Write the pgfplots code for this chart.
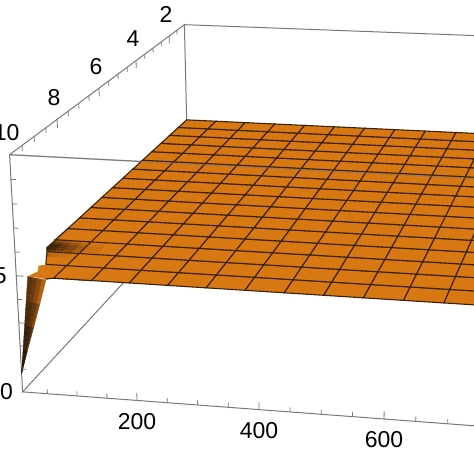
\documentclass[border=0pt]{standalone}
\usepackage{fontspec}
\setmainfont{Liberation Sans}
\usepackage{pgfplots}
\pgfplotsset{compat=1.18}
\definecolor{BoxGray}{RGB}{120,120,120}
\definecolor{MeshBrown}{RGB}{58,33,12}

% camera: (x,y,z) data to picture pixels, pgfplots has no perspective of its own
\newcommand\W{(1-0.01186*\thisrow{x}/200+0.0327*(10-\thisrow{y})-0.00413*\thisrow{z})}
\newcommand\PX{(17.9+117.5*\thisrow{x}/200+24.64*(10-\thisrow{y})-1.341*\thisrow{z})/\W}
\newcommand\PY{474-(391.5+4.2*\thisrow{x}/200-13.04*(10-\thisrow{y})-24.34*\thisrow{z})/\W}
\pgfplotsset{table/proj/.style={x expr=\PX,y expr=\PY,z expr=0,row sep=\\}}

\begin{document}
\begin{tikzpicture}
\useasboundingbox (0,0) rectangle (474pt,474pt);
\clip (0,0) rectangle (474pt,474pt);
\begin{axis}[
    at={(0pt,0pt)},
    anchor=south west,
    scale only axis,
    width=474pt,
    height=474pt,
    xmin=0, xmax=474,
    ymin=0, ymax=474,
    zmin=-1, zmax=1,
    view={0}{90},
    hide axis,
    point meta min=0,
    point meta max=1,
    colormap={fold}{rgb255=(30,18,8) rgb255=(122,68,16) rgb255=(215,120,18)},
    every node near coord/.append style={font=\fontsize{23}{23}\selectfont,anchor=center,text=black},
]

% box edges behind the surface
\addplot3[BoxGray,line width=1pt,unbounded coords=jump] table[proj] {
x y z\\
8 10 10\\ 8 10 0\\ 8 1 0\\ nan nan nan\\
8 1 0\\ 8 1 10\\ 8 10 10\\ nan nan nan\\
8 1 10\\ 1000 1 10\\ nan nan nan\\
8 10 10\\ 1000 10 10\\
};

% z ticks
\addplot3[BoxGray,line width=0.8pt,unbounded coords=jump] table[proj] {
x y z\\
8 10 1\\ 16 10 1\\ nan nan nan\\
8 10 2\\ 16 10 2\\ nan nan nan\\
8 10 3\\ 16 10 3\\ nan nan nan\\
8 10 4\\ 16 10 4\\ nan nan nan\\
8 10 5\\ 20 10 5\\ nan nan nan\\
8 10 6\\ 16 10 6\\ nan nan nan\\
8 10 7\\ 16 10 7\\ nan nan nan\\
8 10 8\\ 16 10 8\\ nan nan nan\\
8 10 9\\ 16 10 9\\
};

% surface, mesh lines as in the reference
\addplot3[surf,shader=faceted,faceted color=MeshBrown,line width=1.1pt,
    mesh/rows=17,mesh/cols=14,point meta=1] table[proj] {
x y z\\
8 1 5\\ 70 1 5\\ 132 1 5\\ 194 1 5\\ 256 1 5\\ 318 1 5\\ 380 1 5\\ 442 1 5\\ 504 1 5\\ 566 1 5\\ 628 1 5\\ 690 1 5\\ 752 1 5\\ 814 1 5\\
8 1.5625 5\\ 70 1.5625 5\\ 132 1.5625 5\\ 194 1.5625 5\\ 256 1.5625 5\\ 318 1.5625 5\\ 380 1.5625 5\\ 442 1.5625 5\\ 504 1.5625 5\\ 566 1.5625 5\\ 628 1.5625 5\\ 690 1.5625 5\\ 752 1.5625 5\\ 814 1.5625 5\\
8 2.125 5\\ 70 2.125 5\\ 132 2.125 5\\ 194 2.125 5\\ 256 2.125 5\\ 318 2.125 5\\ 380 2.125 5\\ 442 2.125 5\\ 504 2.125 5\\ 566 2.125 5\\ 628 2.125 5\\ 690 2.125 5\\ 752 2.125 5\\ 814 2.125 5\\
8 2.6875 5\\ 70 2.6875 5\\ 132 2.6875 5\\ 194 2.6875 5\\ 256 2.6875 5\\ 318 2.6875 5\\ 380 2.6875 5\\ 442 2.6875 5\\ 504 2.6875 5\\ 566 2.6875 5\\ 628 2.6875 5\\ 690 2.6875 5\\ 752 2.6875 5\\ 814 2.6875 5\\
8 3.25 5\\ 70 3.25 5\\ 132 3.25 5\\ 194 3.25 5\\ 256 3.25 5\\ 318 3.25 5\\ 380 3.25 5\\ 442 3.25 5\\ 504 3.25 5\\ 566 3.25 5\\ 628 3.25 5\\ 690 3.25 5\\ 752 3.25 5\\ 814 3.25 5\\
8 3.8125 5\\ 70 3.8125 5\\ 132 3.8125 5\\ 194 3.8125 5\\ 256 3.8125 5\\ 318 3.8125 5\\ 380 3.8125 5\\ 442 3.8125 5\\ 504 3.8125 5\\ 566 3.8125 5\\ 628 3.8125 5\\ 690 3.8125 5\\ 752 3.8125 5\\ 814 3.8125 5\\
8 4.375 5\\ 70 4.375 5\\ 132 4.375 5\\ 194 4.375 5\\ 256 4.375 5\\ 318 4.375 5\\ 380 4.375 5\\ 442 4.375 5\\ 504 4.375 5\\ 566 4.375 5\\ 628 4.375 5\\ 690 4.375 5\\ 752 4.375 5\\ 814 4.375 5\\
8 4.9375 5\\ 70 4.9375 5\\ 132 4.9375 5\\ 194 4.9375 5\\ 256 4.9375 5\\ 318 4.9375 5\\ 380 4.9375 5\\ 442 4.9375 5\\ 504 4.9375 5\\ 566 4.9375 5\\ 628 4.9375 5\\ 690 4.9375 5\\ 752 4.9375 5\\ 814 4.9375 5\\
8 5.5 5\\ 70 5.5 5\\ 132 5.5 5\\ 194 5.5 5\\ 256 5.5 5\\ 318 5.5 5\\ 380 5.5 5\\ 442 5.5 5\\ 504 5.5 5\\ 566 5.5 5\\ 628 5.5 5\\ 690 5.5 5\\ 752 5.5 5\\ 814 5.5 5\\
8 6.0625 5\\ 70 6.0625 5\\ 132 6.0625 5\\ 194 6.0625 5\\ 256 6.0625 5\\ 318 6.0625 5\\ 380 6.0625 5\\ 442 6.0625 5\\ 504 6.0625 5\\ 566 6.0625 5\\ 628 6.0625 5\\ 690 6.0625 5\\ 752 6.0625 5\\ 814 6.0625 5\\
8 6.625 5\\ 70 6.625 5\\ 132 6.625 5\\ 194 6.625 5\\ 256 6.625 5\\ 318 6.625 5\\ 380 6.625 5\\ 442 6.625 5\\ 504 6.625 5\\ 566 6.625 5\\ 628 6.625 5\\ 690 6.625 5\\ 752 6.625 5\\ 814 6.625 5\\
8 7.1875 5\\ 70 7.1875 5\\ 132 7.1875 5\\ 194 7.1875 5\\ 256 7.1875 5\\ 318 7.1875 5\\ 380 7.1875 5\\ 442 7.1875 5\\ 504 7.1875 5\\ 566 7.1875 5\\ 628 7.1875 5\\ 690 7.1875 5\\ 752 7.1875 5\\ 814 7.1875 5\\
8 7.75 5\\ 70 7.75 5\\ 132 7.75 5\\ 194 7.75 5\\ 256 7.75 5\\ 318 7.75 5\\ 380 7.75 5\\ 442 7.75 5\\ 504 7.75 5\\ 566 7.75 5\\ 628 7.75 5\\ 690 7.75 5\\ 752 7.75 5\\ 814 7.75 5\\
8 8.3125 5\\ 70 8.3125 5\\ 132 8.3125 5\\ 194 8.3125 5\\ 256 8.3125 5\\ 318 8.3125 5\\ 380 8.3125 5\\ 442 8.3125 5\\ 504 8.3125 5\\ 566 8.3125 5\\ 628 8.3125 5\\ 690 8.3125 5\\ 752 8.3125 5\\ 814 8.3125 5\\
57 8.875 5\\ 70 8.875 5\\ 132 8.875 5\\ 194 8.875 5\\ 256 8.875 5\\ 318 8.875 5\\ 380 8.875 5\\ 442 8.875 5\\ 504 8.875 5\\ 566 8.875 5\\ 628 8.875 5\\ 690 8.875 5\\ 752 8.875 5\\ 814 8.875 5\\
57 9.4375 5\\ 70 9.4375 5\\ 132 9.4375 5\\ 194 9.4375 5\\ 256 9.4375 5\\ 318 9.4375 5\\ 380 9.4375 5\\ 442 9.4375 5\\ 504 9.4375 5\\ 566 9.4375 5\\ 628 9.4375 5\\ 690 9.4375 5\\ 752 9.4375 5\\ 814 9.4375 5\\
57 10 4.95\\ 70 10 5\\ 132 10 5\\ 194 10 5\\ 256 10 5\\ 318 10 5\\ 380 10 5\\ 442 10 5\\ 504 10 5\\ 566 10 5\\ 628 10 5\\ 690 10 5\\ 752 10 5\\ 814 10 5\\
};

% the steep face at the front, y = 10
\addplot3[surf,shader=faceted,faceted color=mapped color,line width=0.4pt,
    mesh/rows=5,mesh/cols=5,point meta=\thisrow{m}] table[proj] {
x y z m\\
8 10 .8 .05\\ 20 10 1.82 .35\\ 32.5 10 2.85 .5\\ 45 10 3.88 .8\\ 57 10 4.9 1\\
8 10 .8 .03\\ 18.5 10 1.83 .15\\ 29 10 2.86 .3\\ 39.5 10 3.89 .55\\ 50 10 4.92 .8\\
8 10 .8 .03\\ 16.5 10 1.84 .1\\ 25 10 2.88 .22\\ 33.5 10 3.91 .4\\ 42 10 4.95 .55\\
8 10 .8 .03\\ 14.75 10 1.84 .1\\ 21.5 10 2.89 .18\\ 28.25 10 3.93 .3\\ 35 10 4.97 .4\\
8 10 .8 .03\\ 12.75 10 1.85 .08\\ 17.5 10 2.9 .15\\ 22.25 10 3.95 .25\\ 27 10 5 .35\\
};

% the stepped edge and the dark fold of the plateau, sampled finer
\addplot3[surf,shader=faceted,faceted color=mapped color,line width=0.4pt,
    mesh/rows=14,mesh/cols=8,point meta=\thisrow{m}] table[proj] {
x y z m\\
8 7.75 5 1\\ 16 7.75 5 1\\ 27 7.75 5 1\\ 40 7.75 5 1\\ 57 7.75 5 1\\ 70 7.75 5 1\\ 100 7.75 5 1\\ 132 7.75 5 1\\
8 8.25 5 .9\\ 16 8.25 5 1\\ 27 8.25 5 1\\ 40 8.25 5 1\\ 57 8.25 5 1\\ 70 8.25 5 1\\ 100 8.25 5 1\\ 132 8.25 5 1\\
8 8.3125 5 .6\\ 16 8.3125 5 .7\\ 27 8.3125 5 .8\\ 40 8.3125 5 .85\\ 57 8.3125 5 .95\\ 70 8.3125 5 1\\ 100 8.3125 5 1\\ 132 8.3125 5 1\\
8 8.4 5 .4\\ 16 8.4 5 .5\\ 27 8.4 5 .6\\ 40 8.4 5 .7\\ 57 8.4 5 .85\\ 70 8.4 5 .95\\ 100 8.4 5 1\\ 132 8.4 5 1\\
8 8.5 5 .15\\ 16 8.5 5 .2\\ 27 8.5 5 .3\\ 40 8.5 5 .45\\ 57 8.5 5 .65\\ 70 8.5 5 .85\\ 100 8.5 5 1\\ 132 8.5 5 1\\
8 8.7 5 .1\\ 16 8.7 5 .15\\ 27 8.7 5 .25\\ 40 8.7 5 .4\\ 57 8.7 5 .6\\ 70 8.7 5 .8\\ 100 8.7 5 1\\ 132 8.7 5 1\\
12 8.8 5 .2\\ 17 8.8 5 .3\\ 27 8.8 5 .4\\ 40 8.8 5 .55\\ 57 8.8 5 .7\\ 70 8.8 5 .9\\ 100 8.8 5 1\\ 132 8.8 5 1\\
15 8.875 5 .5\\ 18 8.875 5 .6\\ 27 8.875 5 .7\\ 40 8.875 5 .8\\ 57 8.875 5 .9\\ 70 8.875 5 1\\ 100 8.875 5 1\\ 132 8.875 5 1\\
23 9.1 5 1\\ 25 9.1 5 1\\ 30 9.1 5 1\\ 40 9.1 5 1\\ 57 9.1 5 1\\ 70 9.1 5 1\\ 100 9.1 5 1\\ 132 9.1 5 1\\
35 9.4375 5 1\\ 36 9.4375 5 1\\ 38 9.4375 5 1\\ 40 9.4375 5 1\\ 57 9.4375 5 1\\ 70 9.4375 5 1\\ 100 9.4375 5 1\\ 132 9.4375 5 1\\
36 9.465 5 1\\ 37 9.465 5 1\\ 38 9.465 5 1\\ 40 9.465 5 1\\ 57 9.465 5 1\\ 70 9.465 5 1\\ 100 9.465 5 1\\ 132 9.465 5 1\\
27 9.53 5 1\\ 30 9.53 5 1\\ 35 9.53 5 1\\ 40 9.53 5 1\\ 57 9.53 5 1\\ 70 9.53 5 1\\ 100 9.53 5 1\\ 132 9.53 5 1\\
35 9.77 5 1\\ 36 9.77 5 1\\ 38 9.77 5 1\\ 40 9.77 5 1\\ 57 9.77 5 1\\ 70 9.77 5 1\\ 100 9.77 5 1\\ 132 9.77 5 1\\
27 10 5 1\\ 30 10 5 1\\ 35 10 5 1\\ 40 10 5 1\\ 57 10 4.95 1\\ 70 10 5 1\\ 100 10 5 1\\ 132 10 5 1\\
};

% mesh lines over that finer part
\addplot3[MeshBrown,line width=1.1pt,unbounded coords=jump] table[proj] {
x y z\\
8 7.75 5\\ 8 8.3125 5\\ 8 8.7 5\\ 12 8.8 5\\ 15 8.875 5\\ 23 9.1 5\\ 35 9.4375 5\\ nan nan nan\\
8 7.75 5\\ 132 7.75 5\\ nan nan nan\\
8 8.3125 5\\ 132 8.3125 5\\ nan nan nan\\
15 8.875 5\\ 132 8.875 5\\ nan nan nan\\
35 9.4375 5\\ 132 9.4375 5\\ nan nan nan\\
70 7.75 5\\ 70 10 5\\ nan nan nan\\
132 7.75 5\\ 132 10 5\\ nan nan nan\\
57 10 4.95\\ 70 10 5\\ 132 10 5\\
};

% front top edge shows faintly across the surface
\addplot3[BoxGray,opacity=0.45,line width=1.4pt] table[proj] {
x y z\\
8 10 10\\ 1000 10 10\\
};

% front bottom edge, and ticks
\addplot3[BoxGray,line width=1pt] table[proj] {
x y z\\
8 10 0\\ 1000 10 0\\
};
\addplot3[BoxGray,line width=0.8pt,unbounded coords=jump] table[proj] {
x y z\\
50 10 0\\ 50 10 .2\\ nan nan nan\\
100 10 0\\ 100 10 .2\\ nan nan nan\\
150 10 0\\ 150 10 .2\\ nan nan nan\\
200 10 0\\ 200 10 .33\\ nan nan nan\\
250 10 0\\ 250 10 .2\\ nan nan nan\\
300 10 0\\ 300 10 .2\\ nan nan nan\\
350 10 0\\ 350 10 .2\\ nan nan nan\\
400 10 0\\ 400 10 .33\\ nan nan nan\\
450 10 0\\ 450 10 .2\\ nan nan nan\\
500 10 0\\ 500 10 .2\\ nan nan nan\\
550 10 0\\ 550 10 .2\\ nan nan nan\\
600 10 0\\ 600 10 .33\\ nan nan nan\\
650 10 0\\ 650 10 .2\\ nan nan nan\\
700 10 0\\ 700 10 .2\\ nan nan nan\\
750 10 0\\ 750 10 .2\\ nan nan nan\\
8 9.5 10\\ 8 9.5 9.78\\ nan nan nan\\
8 9 10\\ 8 9 9.78\\ nan nan nan\\
8 8.5 10\\ 8 8.5 9.78\\ nan nan nan\\
8 8 10\\ 8 8 9.63\\ nan nan nan\\
8 7.5 10\\ 8 7.5 9.78\\ nan nan nan\\
8 7 10\\ 8 7 9.78\\ nan nan nan\\
8 6.5 10\\ 8 6.5 9.78\\ nan nan nan\\
8 6 10\\ 8 6 9.63\\ nan nan nan\\
8 5.5 10\\ 8 5.5 9.78\\ nan nan nan\\
8 5 10\\ 8 5 9.78\\ nan nan nan\\
8 4.5 10\\ 8 4.5 9.78\\ nan nan nan\\
8 4 10\\ 8 4 9.63\\ nan nan nan\\
8 3.5 10\\ 8 3.5 9.78\\ nan nan nan\\
8 3 10\\ 8 3 9.78\\ nan nan nan\\
8 2.5 10\\ 8 2.5 9.78\\ nan nan nan\\
8 2 10\\ 8 2 9.63\\ nan nan nan\\
8 1.5 10\\ 8 1.5 9.78\\
};

% tick labels
\addplot3[draw=none,mark=none,nodes near coords,point meta=explicit symbolic,
    every node near coord/.append style={yshift=-21pt}] table[proj,meta=l] {
x y z l\\
200 10 0 200\\
400 10 0 400\\
600 10 0 600\\
};
\addplot3[draw=none,mark=none,nodes near coords,point meta=explicit symbolic,
    every node near coord/.append style={xshift=-3pt,yshift=22pt}] table[proj,meta=l] {
x y z l\\
8 10 10 10\\
8 8 10 8\\
8 6 10 6\\
8 4 10 4\\
8 2 10 2\\
};
\addplot3[draw=none,mark=none,nodes near coords,point meta=explicit symbolic,
    every node near coord/.append style={xshift=-16pt}] table[proj,meta=l] {
x y z l\\
8 10 0 0\\
8 10 5 5\\
};

\end{axis}
\end{tikzpicture}
\end{document}
